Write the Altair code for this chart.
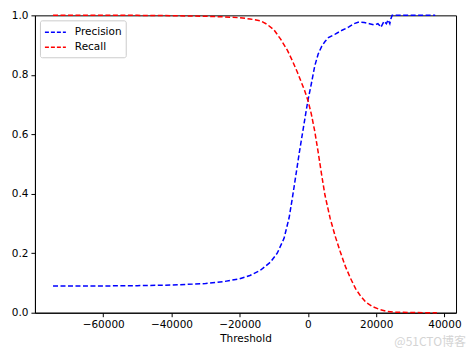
import altair as alt
import pandas as pd

prec_x = [-74700, -60000, -50000, -40000, -30000, -25000, -20000, -17000, -14000, -11000,
          -9000, -7000, -5500, -4500, -3500, -2500, -1500, -500, 0, 1000, 2000, 3000, 4000,
          5000, 6000, 8000, 10000, 12000, 13500, 15000, 16500, 18000, 19500, 20500, 21000,
          21400, 22300, 23000, 23500, 24000, 24300, 24700, 37300]
prec_y = [0.090, 0.090, 0.091, 0.093, 0.098, 0.104, 0.114, 0.125, 0.142, 0.170,
          0.200, 0.250, 0.320, 0.390, 0.465, 0.540, 0.610, 0.680, 0.714, 0.770, 0.830, 0.870, 0.895,
          0.912, 0.925, 0.937, 0.950, 0.961, 0.972, 0.978, 0.976, 0.972, 0.968, 0.972, 0.966,
          0.960, 0.980, 0.972, 0.985, 0.972, 0.988, 1.0, 1.0]

rec_x = [-74700, -50000, -40000, -30000, -25000, -20000, -17000, -14000, -12000, -10000,
         -8000, -6000, -4500, -3000, -2000, -1000, 0, 1000, 2000, 3000, 4000, 5000, 6500,
         8000, 9500, 11000, 12500, 14000, 15500, 17000, 19000, 21000, 23000, 25000, 30000, 37800]
rec_y = [1.0, 1.0, 0.999, 0.997, 0.995, 0.992, 0.988, 0.982, 0.970, 0.952,
         0.920, 0.882, 0.846, 0.806, 0.777, 0.748, 0.714, 0.668, 0.610, 0.540, 0.465, 0.395, 0.318,
         0.257, 0.204, 0.155, 0.115, 0.080, 0.055, 0.035, 0.020, 0.011, 0.005, 0.002, 0.0005, 0.0]

x_ticks = [-60000, -40000, -20000, 0, 20000, 40000]
y_ticks = [0.0, 0.2, 0.4, 0.6, 0.8, 1.0]
series = ["Precision", "Recall"]
colors = ["#0000ff", "#ff0000"]

rows = []
for i, (xv, yv) in enumerate(zip(prec_x, prec_y)):
    rows.append({"t": xv, "v": yv, "s": "Precision", "o": i})
for i, (xv, yv) in enumerate(zip(rec_x, rec_y)):
    rows.append({"t": xv, "v": yv, "s": "Recall", "o": i})
df = pd.DataFrame(rows)

lines = alt.Chart(df).mark_line(strokeDash=[5, 2.5], strokeWidth=1.5).encode(
    x=alt.X("t:Q", scale=alt.Scale(domain=[-80000, 43400], nice=False, zero=False),
            axis=alt.Axis(title="Threshold", values=x_ticks, grid=False,
                          labelExpr="replace(format(datum.value, 'd'), '-', '\u2212')")),
    y=alt.Y("v:Q", scale=alt.Scale(domain=[0, 1], nice=False),
            axis=alt.Axis(title=None, values=y_ticks, format=".1f", grid=False)),
    color=alt.Color("s:N", scale=alt.Scale(domain=series, range=colors),
                    legend=alt.Legend(title=None, orient="none", legendX=5, legendY=5,
                                      symbolType="M-1,0L2,0", symbolDash=[4, 2], symbolStrokeWidth=1.5,
                                      symbolSize=196, labelFontSize=10.5, labelColor="#000",
                                      fillColor="white", strokeColor="#cccccc", padding=4,
                                      cornerRadius=2, rowPadding=1, labelOffset=15)),
    order="o:Q",
)

watermark = alt.Chart(pd.DataFrame({"w": ["@51CTO博客"]})).mark_text(
    fontSize=12, color="#d4d4d4", align="right", baseline="middle"
).encode(text="w:N", x=alt.value(432), y=alt.value(327))

chart = alt.layer(lines, watermark).properties(
    width=422, height=298, padding={"left": 3, "top": 2, "right": 0, "bottom": 0}
).configure_view(stroke="black", strokeWidth=1).configure_axis(
    domainColor="black", tickColor="black", tickSize=4, labelFontSize=10.5, labelColor="#000",
    titleFontSize=10.5, titleFontWeight="normal", titleColor="#000", labelFont="DejaVu Sans",
    titleFont="DejaVu Sans", titlePadding=3, labelPadding=3
).configure_legend(labelFont="DejaVu Sans").configure_text(font="Noto Sans CJK SC")

chart.save("out.html", embed_options={"renderer": "svg", "actions": False})
